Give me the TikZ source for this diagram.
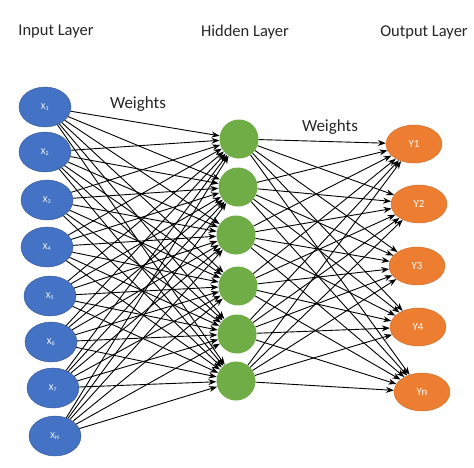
\documentclass[tikz,border=0pt]{standalone}
\usepackage{fontspec}
\setmainfont{Carlito}
\usepackage{xcolor}
\usetikzlibrary{arrows.meta,shapes.geometric}
\definecolor{inblue}{HTML}{4472C4}
\definecolor{hidgreen}{HTML}{70AD47}
\definecolor{outorange}{HTML}{ED7D31}

\begin{document}
\begin{tikzpicture}[x=1pt, y=-1pt,
    in_node/.style={ellipse, draw=inblue!75!black, fill=inblue, minimum width=52pt, minimum height=40pt, inner sep=0pt, text=white, font=\fontsize{9}{10}\selectfont},
    hid_node/.style={circle, fill=hidgreen, minimum size=39pt, inner sep=0pt},
    out_node/.style={ellipse, draw=outorange!85!black, fill=outorange, minimum width=56pt, minimum height=38pt, inner sep=0pt, text=white, font=\fontsize{11}{12}\selectfont},
    layer_title/.style={font=\fontsize{16.5}{20}\selectfont, text=black!85},
    weight_lbl/.style={font=\fontsize{17}{20}\selectfont, text=black!85},
    wire/.style={-{Stealth[length=8pt,width=6pt]}, line width=0.9pt, black}
]
    \useasboundingbox (0,0) rectangle (474,467);

    \node[layer_title] (tin) at (56,32) {Input Layer};
    \node[layer_title] (thid) at (245,32) {Hidden Layer};
    \node[layer_title] (tout) at (424,32) {Output Layer};

    \node[in_node] (x1) at (45,107) {X\textsubscript{1}};
    \node[in_node] (x2) at (45,152) {X\textsubscript{2}};
    \node[in_node] (x3) at (47,200) {X\textsubscript{3}};
    \node[in_node] (x4) at (47,247) {X\textsubscript{4}};
    \node[in_node] (x5) at (50,296) {X\textsubscript{5}};
    \node[in_node] (x6) at (51,342) {X\textsubscript{6}};
    \node[in_node] (x7) at (53,388) {X\textsubscript{7}};
    \node[in_node] (x8) at (55,436) {X\textsubscript{N}};

    \node[hid_node] (h1) at (239,139) {};
    \node[hid_node] (h2) at (238,187) {};
    \node[hid_node] (h3) at (236,235) {};
    \node[hid_node] (h4) at (238,286) {};
    \node[hid_node] (h5) at (237,334) {};
    \node[hid_node] (h6) at (236,381) {};

    \node[out_node] (y1) at (414,144) {Y1};
    \node[out_node] (y2) at (419,204) {Y2};
    \node[out_node] (y3) at (417,266) {Y3};
    \node[out_node] (y4) at (418,327) {Y4};
    \node[out_node] (y5) at (422,392) {Yn};

    \node[weight_lbl] (w1) at (138,104) {Weights};
    \node[weight_lbl] (w2) at (330,127) {Weights};

    % fully connected layers
    \foreach \i in {1,...,8}
        \foreach \j in {1,...,6}
            \draw[wire] (x\i) -- (h\j);
    \foreach \j in {1,...,6}
        \foreach \k in {1,...,5}
            \draw[wire] (h\j) -- (y\k);
\end{tikzpicture}
\end{document}
